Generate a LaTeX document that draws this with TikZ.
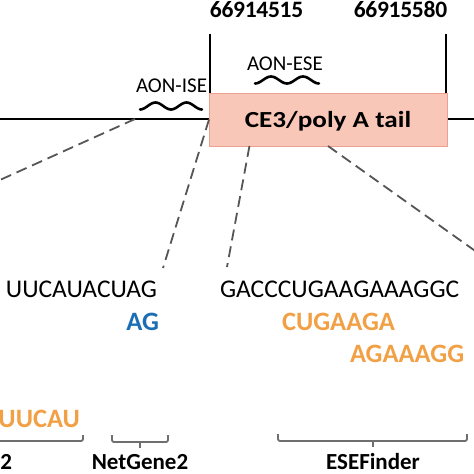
\documentclass[tikz,border=0pt]{standalone}
\usepackage{fontspec}
\setmainfont{Carlito}
\newfontfamily\exonfont[FakeStretch=1.18]{Carlito}
\usetikzlibrary{positioning,calc}
\definecolor{boxfill}{RGB}{249,199,184}
\definecolor{boxline}{RGB}{236,160,145}
\definecolor{hitorange}{RGB}{242,160,70}
\definecolor{hitblue}{RGB}{28,110,180}
\definecolor{linkgray}{RGB}{85,85,85}
\definecolor{bracegray}{RGB}{110,110,110}
% digits set at equal width
\newcommand\tabnum[1]{\tabnumloop#1\relax}
\def\tabnumloop#1{\ifx#1\relax\else\makebox[0.495em]{#1}\expandafter\tabnumloop\fi}

\begin{document}
\begin{tikzpicture}[
    x=1pt, y=-1pt,
    every node/.style={inner sep=0pt, outer sep=0pt},
    exon/.style={draw=boxline, line width=1pt, fill=boxfill, minimum width=238pt, minimum height=53pt, text depth=0pt, font=\exonfont\bfseries\fontsize{23}{25}\selectfont},
    coord/.style={font=\bfseries\fontsize{23.5}{26}\selectfont},
    aon/.style={font=\fontsize{21}{23}\selectfont},
    seq/.style={font=\fontsize{25.5}{28}\selectfont},
    hit/.style={font=\bfseries\fontsize{26.5}{28}\selectfont},
    tool/.style={font=\bfseries\fontsize{23}{25}\selectfont},
    wave/.style={line width=2.6pt, line cap=round},
    link/.style={draw=linkgray, line width=1.8pt, dash pattern=on 11pt off 6pt},
    bracket/.style={draw=bracegray, line width=1.8pt, rounded corners=2pt}
]
\useasboundingbox (0,0) rectangle (474,474);
\clip (0,0) rectangle (474,474);

% gene line and exon
\coordinate (lineL) at (0,119);
\coordinate (lineR) at (474,119);
\draw[line width=1.4pt] (lineL) -- (lineR);
\node[exon] (ce3) at (328,119.5) {CE3/poly A tail};

% genomic positions
\node[coord, anchor=base west] (startpos) at (210,17) {\tabnum{66914515}};
\node[coord, anchor=base east] (endpos) at (447,17) {\tabnum{66915580}};
\coordinate (tickL) at (210,34);
\coordinate (tickR) at (446,34);
\draw[line width=1.8pt] ([xshift=1pt]ce3.north west) -- (tickL);
\draw[line width=1.8pt] ([xshift=-1pt]ce3.north east) -- (tickR);

% antisense oligos
\node[aon, anchor=base west] (aonese) at (247,70) {AON-ESE};
\node[aon, anchor=base west] (aonise) at (136,92) {AON-ISE};
\draw[wave] plot[domain=0:2, samples=41, smooth] ({255+\x*32},{80+3.5*cos(360*\x)});
\draw[wave] plot[domain=0:2, samples=41, smooth] ({140+\x*31},{106+3.5*cos(360*\x)});

% sequences
\node[seq, anchor=base east] (seqintron) at (157,297) {UUCAUACUAG};
\node[seq, anchor=base west] (seqexon) at (220,297) {GACCCUGAAGAAAGGC};
\node[hit, text=hitblue, anchor=base east] (splag) at (159,330) {AG};
\node[hit, text=hitorange, anchor=base west] (eseone) at (282,330) {CUGAAGA};
\node[hit, text=hitorange, anchor=base west] (esetwo) at (350,362) {AGAAAGG};
\node[hit, text=hitorange, anchor=base east] (iseone) at (80,427) {UUCAU};

% zoom lines
\coordinate (isesite) at (135,119);
\coordinate (cutleft) at (-20,189);
\coordinate (intronend) at (163,268);
\coordinate (exonstart) at (227,267);
\coordinate (cutright) at (490,261.5);
\draw[link] (isesite) -- (cutleft);
\draw[link] (ce3.west) -- (intronend);
\draw[link] ($(ce3.south west)!0.17!(ce3.south east)$) -- (exonstart);
\draw[link] (ce3.south) -- (cutright);

% prediction tools
\node[tool, anchor=base east] (toolone) at (12,469) {2};
\node[tool, anchor=base] (netgene) at (140,469) {NetGene2};
\node[tool, anchor=base] (esefinder) at (373,469) {ESEFinder};
\draw[bracket] (-120,435) |- (83,441) -- (83,435);
\draw[bracket] (112,435) |- (168,442) -- (168,435);
\draw[bracket] (140,442) -- (140,448);
\draw[bracket] (278,434) |- (467,441) -- (467,434);
\draw[bracket] (373,441) -- (373,447);
\end{tikzpicture}
\end{document}
